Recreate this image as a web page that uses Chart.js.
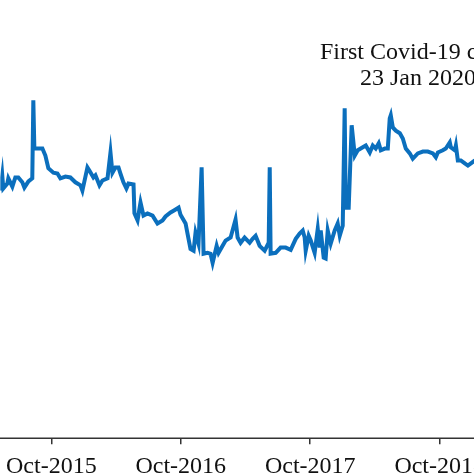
<!DOCTYPE html>
<html>
<head>
<meta charset="utf-8">
<script src="https://cdn.jsdelivr.net/npm/chart.js@4.4.0/dist/chart.umd.min.js"></script>
<style>
  html, body { margin: 0; padding: 0; background: #fff; }
  #wrap { width: 474px; height: 474px; overflow: hidden; position: relative; }
  #chart { position: absolute; left: -2px; top: 0; }
</style>
</head>
<body>
<div id="wrap"><canvas id="chart" width="560" height="489"></canvas></div>
<script>
// fecha en años decimales (lectura aproximada del gráfico)
const dates = [
  2015.356, 2015.371, 2015.379, 2015.410, 2015.418, 2015.449, 2015.472, 2015.495, 2015.526, 2015.542,
  2015.573, 2015.603, 2015.611, 2015.619, 2015.681, 2015.704, 2015.727, 2015.766, 2015.797, 2015.820,
  2015.859, 2015.897, 2015.936, 2015.975, 2015.990, 2016.029, 2016.044, 2016.075, 2016.091, 2016.122,
  2016.145, 2016.184, 2016.207, 2016.222, 2016.245, 2016.269, 2016.284, 2016.307, 2016.330, 2016.346,
  2016.385, 2016.392, 2016.416, 2016.439, 2016.462, 2016.493, 2016.532, 2016.570, 2016.609, 2016.632,
  2016.671, 2016.694, 2016.733, 2016.748, 2016.787, 2016.802, 2016.825, 2016.849, 2016.864, 2016.887,
  2016.911, 2016.926, 2016.957, 2016.980, 2016.996, 2017.027, 2017.042, 2017.073, 2017.096, 2017.135,
  2017.173, 2017.189, 2017.212, 2017.243, 2017.282, 2017.305, 2017.328, 2017.359, 2017.398, 2017.429,
  2017.437, 2017.444, 2017.483, 2017.521, 2017.560, 2017.599, 2017.638, 2017.668, 2017.692, 2017.707,
  2017.715, 2017.738, 2017.754, 2017.784, 2017.808, 2017.823, 2017.831, 2017.854, 2017.869, 2017.885,
  2017.908, 2017.939, 2017.962, 2017.978, 2018.001, 2018.016, 2018.024, 2018.047, 2018.070, 2018.094,
  2018.117, 2018.156, 2018.179, 2018.210, 2018.233, 2018.256, 2018.279, 2018.295, 2018.326, 2018.349,
  2018.364, 2018.372, 2018.388, 2018.411, 2018.442, 2018.465, 2018.488, 2018.519, 2018.542, 2018.581,
  2018.620, 2018.658, 2018.697, 2018.720, 2018.736, 2018.774, 2018.797, 2018.828, 2018.836, 2018.867,
  2018.875, 2018.890, 2018.913, 2018.944, 2018.968, 2018.991, 2019.022
];

const values = [
  56.5, 60.0, 57.0, 58.1, 59.3, 57.4, 59.5, 59.5, 58.4, 57.2,
  58.6, 59.3, 77.1, 66.1, 66.1, 64.5, 61.6, 60.6, 60.4, 59.3,
  59.7, 59.5, 58.4, 57.7, 56.5, 61.8, 61.1, 59.5, 60.0, 57.7,
  58.8, 59.3, 65.2, 60.6, 61.8, 61.8, 60.4, 58.4, 57.0, 58.1,
  57.9, 51.3, 49.7, 53.8, 50.8, 51.3, 50.8, 49.0, 49.7, 50.6,
  51.5, 51.9, 52.6, 51.0, 49.0, 46.7, 43.2, 42.8, 46.9, 44.4,
  61.8, 42.1, 42.3, 42.1, 40.0, 43.9, 42.3, 43.9, 45.1, 45.8,
  49.9, 45.8, 44.6, 45.8, 44.6, 45.5, 46.2, 43.9, 42.8, 44.6,
  61.8, 42.1, 42.3, 43.5, 43.5, 43.0, 45.5, 46.7, 47.4, 45.8,
  42.8, 46.2, 45.1, 42.3, 47.8, 43.5, 47.4, 41.2, 41.0, 47.4,
  44.4, 47.4, 49.0, 46.2, 48.5, 75.3, 52.6, 52.6, 71.4, 64.5,
  65.7, 66.4, 66.8, 65.2, 66.8, 66.1, 67.3, 65.7, 66.1, 66.1,
  73.0, 73.7, 70.9, 70.2, 69.6, 68.4, 66.1, 65.0, 63.8, 65.0,
  65.4, 65.4, 65.0, 64.1, 65.2, 65.7, 66.1, 67.5, 66.4, 65.7,
  66.8, 63.4, 63.4, 62.7, 62.2, 62.7, 63.4
];

const tickValues = [2015.75, 2016.75, 2017.75, 2018.75];
const tickLabels = ['Oct-2015', 'Oct-2016', 'Oct-2017', 'Oct-2018'];
const noteLines = ['First Covid-19 case', '23 Jan 2020'];

const serif = "'Liberation Serif', 'Times New Roman', serif";

// texto de la anotación + línea del eje
const notePlugin = {
  id: 'note',
  afterDraw(chart) {
    const c = chart.ctx;
    const area = chart.chartArea;
    c.save();
    c.strokeStyle = '#333';
    c.lineWidth = 1.5;
    c.beginPath();
    c.moveTo(0, area.bottom);
    c.lineTo(chart.width, area.bottom);
    c.stroke();

    c.font = '24px ' + serif;
    c.fillStyle = '#111';
    c.textAlign = 'left';
    c.textBaseline = 'alphabetic';
    c.fillText(noteLines[0], 322, 59);
    c.fillText(noteLines[1], 362, 85);
    c.restore();
  }
};

const ctx = document.getElementById('chart').getContext('2d');
new Chart(ctx, {
  type: 'line',
  data: {
    datasets: [{
      data: dates.map((d, i) => ({ x: d, y: values[i] })),
      borderColor: '#0b6fbd',
      borderWidth: 4,
      pointRadius: 0,
      tension: 0,
      fill: false
    }]
  },
  options: {
    responsive: false,
    animation: false,
    devicePixelRatio: 1,
    layout: { padding: 0 },
    plugins: {
      legend: { display: false },
      tooltip: { enabled: false }
    },
    scales: {
      x: {
        type: 'linear',
        min: 2015.356,
        max: 2015.356 + 557 / 129.3,
        afterBuildTicks: (axis) => {
          axis.ticks = tickValues.map(v => ({ value: v }));
        },
        grid: {
          drawOnChartArea: false,
          drawTicks: true,
          tickLength: 6,
          color: '#333',
          lineWidth: 1.5
        },
        border: { display: false },
        ticks: {
          autoSkip: false,
          maxRotation: 0,
          padding: 8,
          color: '#111',
          font: { family: serif, size: 24 },
          callback: (v) => {
            const i = tickValues.indexOf(v);
            return i >= 0 ? tickLabels[i] : '';
          }
        }
      },
      y: {
        display: false,
        min: 0,
        max: 100
      }
    }
  },
  plugins: [notePlugin]
});
</script>
</body>
</html>
